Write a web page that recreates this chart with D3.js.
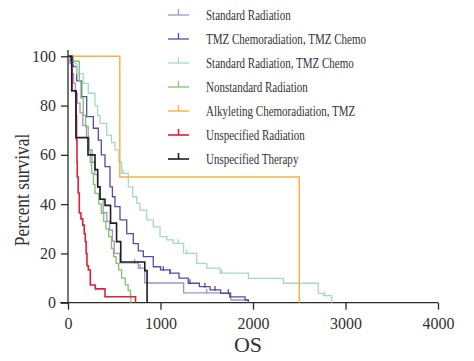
<!DOCTYPE html>
<html>
<head>
<meta charset="utf-8">
<script src="https://cdn.jsdelivr.net/npm/d3@7"></script>
<style>
  body { margin: 0; background: #fff; }
  text { font-family: "Liberation Serif", "DejaVu Serif", serif; fill: #333; }
</style>
</head>
<body>
<svg id="chart" width="474" height="361"></svg>
<script>
// survival curves: [time, percent] after each drop
const seriesNames = ["Standard Radiation", "TMZ Chemoradiation, TMZ Chemo", "Standard Radiation, TMZ Chemo",
  "Nonstandard Radiation", "Alkyleting Chemoradiation, TMZ", "Unspecified Radiation", "Unspecified Therapy"];

const standardRad = [[0,100],[20,97],[40,93],[60,89],[80,85],[100,81],[130,77],[160,72],[200,67],[230,62],[260,57],
  [290,52],[320,47],[345,42],[380,36.5],[420,33],[450,29.5],[480,25],[500,20],[560,16.2],[760,14],[830,8],
  [1250,4],[1760,1.1],[1950,0]];
const tmzChemorad = [[0,100],[30,98],[57,95.8],[94,90],[148,83.6],[202,75.5],[274,70.8],[328,66],[360,60],[400,55.2],
  [454,47],[480,43],[508,39],[562,33.6],[635,28],[706,24],[760,21],[814,18.7],[922,14.6],[1000,13.3],[1103,12],
  [1200,10],[1300,7.9],[1420,6.5],[1535,5.2],[1650,3.8],[1751,2.4],[1914,1.1],[1950,0]];
const stdRadTmz = [[0,100],[40,97],[94,93],[165,89],[219,85],[292,80],[320,76],[346,72.8],[418,68],[470,65],[508,62],
  [550,57],[580,52.5],[652,47],[700,43],[743,40.3],[778,37.6],[851,33.6],[922,30.8],[995,26.8],[1070,25.5],
  [1138,24.1],[1250,20],[1391,16],[1500,14],[1643,12],[1950,9.9],[2328,7.9],[2706,3.8],[2760,2.9],[2850,0]];
const nonstandardRad = [[0,100],[60,98],[122,90],[140,83],[165,76],[190,71.4],[219,62],[240,57],[256,52.5],[275,48],
  [292,44.4],[332,40],[360,36.3],[386,33],[410,30],[440,26.8],[470,22],[494,18.7],[520,16],[548,13.3],[580,10],
  [619,7.2],[650,5],[674,3.1],[680,0]];
const alkyleting = [[0,100],[560,51],[2500,0]];
const unspecRad = [[0,100],[43,86],[86,76],[92,66],[97,57],[100,51],[110,44.5],[122,36.4],[140,34],[159,31.5],[175,28],
  [187,24.8],[196,20],[205,15],[220,13.3],[241,7.2],[295,5.6],[400,2.4],[730,0]];
const unspecTherapy = [[0,100],[40,86],[86,67],[216,60],[292,54],[321,47],[346,42],[400,39.5],[460,32.3],[525,24.8],
  [570,16.5],[830,13],[855,0]];

// censor marks (time only; height taken from the curve)
const censorStdRad = [720, 780, 1500];
const censorTmz = [1030, 1103, 1319, 1480, 1589, 1733, 1751];
const censorStdRadTmz = [600, 1192, 1283, 1661, 2778];

const colors = ["#a690cc", "#4f4fa6", "#a3dac7", "#7fc46b", "#f6b443", "#e0203a", "#1e1e1e"];
const widths = [1.3, 1.3, 1.3, 1.3, 1.5, 1.6, 1.6];

const xTicks = [0, 1000, 2000, 3000, 4000];
const yTicks = [0, 20, 40, 60, 80, 100];

const curves = [standardRad, tmzChemorad, stdRadTmz, nonstandardRad, alkyleting, unspecRad, unspecTherapy];
const censors = [censorStdRad, censorTmz, censorStdRadTmz, [], [], [], []];

const svg = d3.select("#chart");
const x = d3.scaleLinear().domain([0, 4000]).range([68, 438]);
const y = d3.scaleLinear().domain([0, 100]).range([302.7, 56.3]);

// axes
const xAxis = svg.append("g").attr("transform", "translate(0,302.7)")
  .call(d3.axisBottom(x).tickValues(xTicks).tickFormat(d3.format("d")).tickSizeOuter(0).tickSize(7));
const yAxis = svg.append("g").attr("transform", "translate(68,0)")
  .call(d3.axisLeft(y).tickValues(yTicks).tickSizeOuter(0).tickSize(7));
[xAxis, yAxis].forEach(a => {
  a.select(".domain").attr("stroke", "#2a2a2a").attr("stroke-width", 1.3);
  a.selectAll(".tick line").attr("stroke", "#2a2a2a").attr("stroke-width", 1.3);
  a.selectAll(".tick text").style("font-family", "Liberation Serif").style("font-size", "16px").attr("fill", "#333");
});
xAxis.select(".domain").attr("d", "M60,0H438");
yAxis.select(".domain").attr("d", "M0,50V302.7");
xAxis.selectAll(".tick text").attr("dy", "1.0em");
yAxis.selectAll(".tick text").attr("x", -12);

svg.append("text").attr("x", 248).attr("y", 352).attr("text-anchor", "middle")
  .style("font-size", "22px").text("OS");
svg.append("text").attr("transform", "translate(29,190) rotate(-90) scale(0.87,1)").attr("text-anchor", "middle")
  .style("font-size", "20px").text("Percent survival");

// curves
const line = d3.line().x(d => x(d[0])).y(d => y(d[1])).curve(d3.curveStepAfter);
const survAt = (c, t) => { let s = 100; c.forEach(p => { if (p[0] <= t) s = p[1]; }); return s; };

curves.forEach((c, i) => {
  svg.append("path").datum(c).attr("d", line).attr("fill", "none")
    .attr("stroke", colors[i]).attr("stroke-width", widths[i]);
  svg.selectAll(null).data(censors[i]).join("line")
    .attr("x1", d => x(d)).attr("x2", d => x(d))
    .attr("y1", d => y(survAt(c, d)) - 4).attr("y2", d => y(survAt(c, d)) + 1)
    .attr("stroke", colors[i]).attr("stroke-width", widths[i]);
});

// legend (condensed serif, like the original)
const legend = svg.append("g");
seriesNames.forEach((name, i) => {
  const ly = 15 + i * 24;
  const g = legend.append("g").attr("transform", `translate(0,${ly})`);
  g.append("line").attr("x1", 168).attr("x2", 189).attr("y1", 0).attr("y2", 0)
    .attr("stroke", colors[i]).attr("stroke-width", widths[i]);
  g.append("line").attr("x1", 178.5).attr("x2", 178.5).attr("y1", 0).attr("y2", -6)
    .attr("stroke", colors[i]).attr("stroke-width", widths[i]);
  g.append("text").attr("transform", "translate(206,4.5) scale(0.76,1)").style("font-size", "14.5px").text(name);
});
</script>
</body>
</html>
